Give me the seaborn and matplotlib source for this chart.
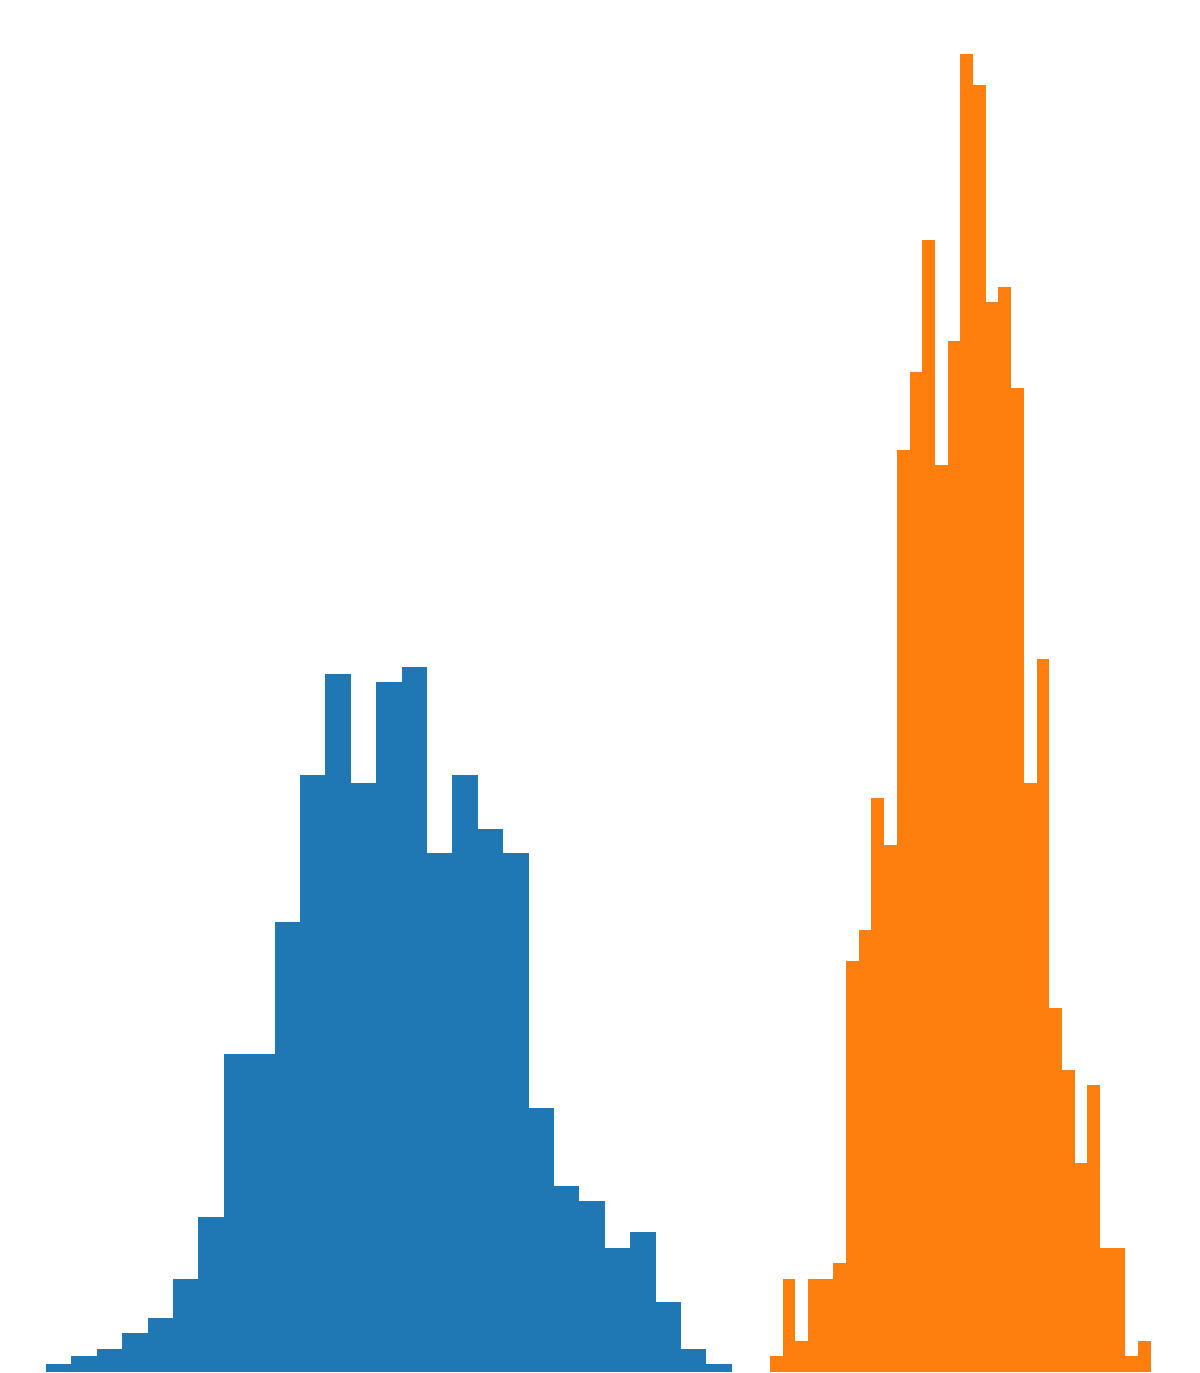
"""
Two side-by-side histograms, no axes.
"""

from matplotlib import pyplot as plt
import numpy as np
import pandas as pd
import seaborn as sns

# blue: 27 bins of width 0.2 from -2.7 to 2.7
blue_range = (-2.7, 2.7)
blue_width = 0.2
blue_counts = [1, 2, 3, 5, 7, 12, 20, 41, 41, 58, 77, 90, 76, 89, 91,
               67, 77, 70, 67, 34, 24, 22, 16, 18, 9, 3, 1]

# orange: 30 bins of width 0.1 from 3.0 to 6.0
orange_range = (3.0, 6.0)
orange_width = 0.1
orange_counts = [2, 12, 4, 12, 12, 14, 53, 57, 74, 68, 119, 129, 146, 117, 133,
                 170, 166, 138, 140, 127, 76, 92, 47, 39, 27, 37, 16, 16, 2, 4]


def binned(rng, width, counts):
    mids = rng[0] + width * (np.arange(len(counts)) + 0.5)
    return pd.DataFrame({"x": mids, "n": counts})


sns.set_style("white")
fig = plt.figure(figsize=(12, 13.73), dpi=100)
ax = fig.add_axes([0, 1 / 1373, 1, 1 - 1 / 1373])

sns.histplot(data=binned(blue_range, blue_width, blue_counts), x="x", weights="n",
             binwidth=blue_width, binrange=blue_range,
             color="#1f77b4", alpha=1, linewidth=0, ax=ax)
sns.histplot(data=binned(orange_range, orange_width, orange_counts), x="x", weights="n",
             binwidth=orange_width, binrange=orange_range,
             color="#ff7f0e", alpha=1, linewidth=0, ax=ax)

ax.set_xlim(-3.062, 6.387)
ax.set_ylim(0, 177.0)
ax.axis("off")

fig.savefig("out.png", dpi=100, facecolor="white")
